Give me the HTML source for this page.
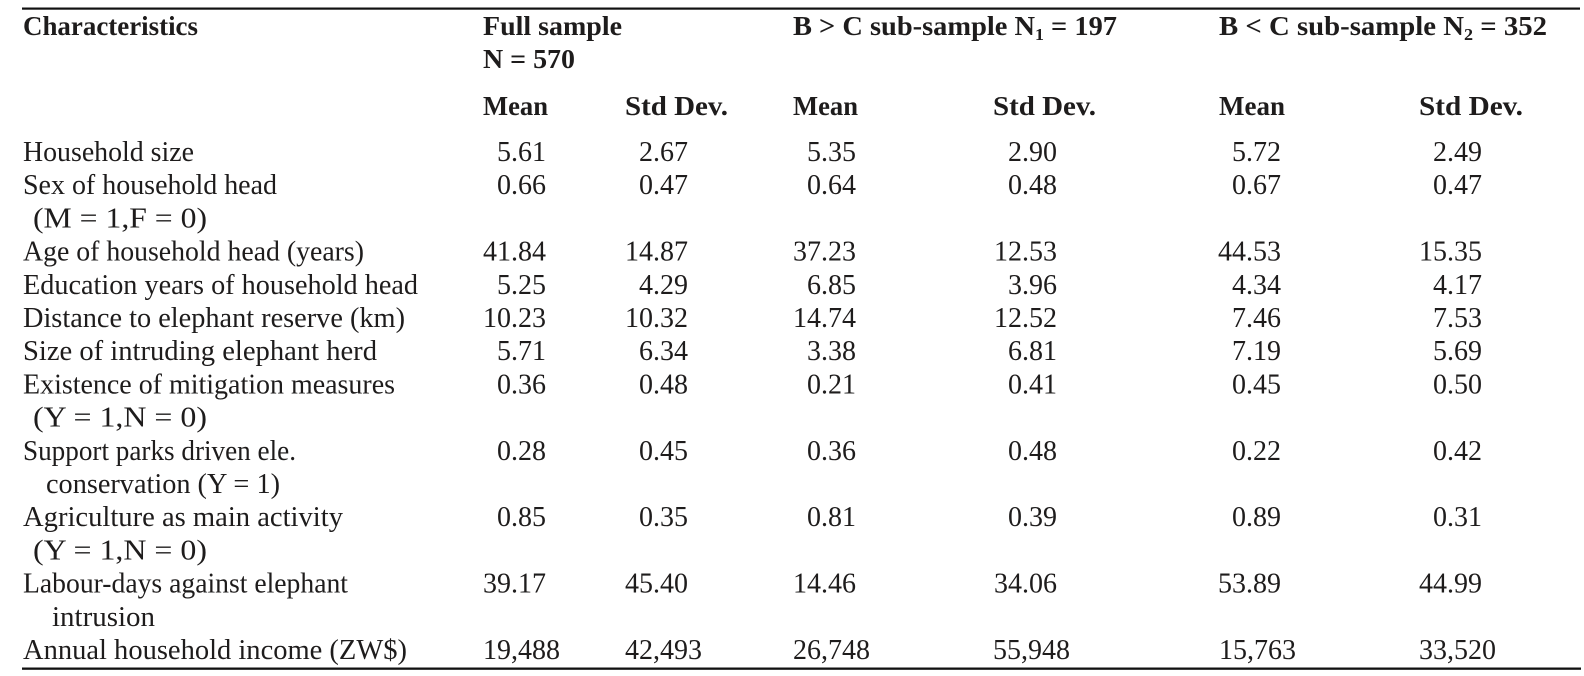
<!DOCTYPE html>
<html>
<head>
<meta charset="utf-8">
<style>
  html,body{margin:0;padding:0;background:#fff;}
  body{width:1584px;height:676px;overflow:hidden;}
  svg{display:block;}
  text{font-family:"Liberation Serif","DejaVu Serif",serif;font-size:28px;fill:#1e1c1c;}
  .b{font-weight:bold;font-size:27px;}
  .r{text-anchor:end;}
</style>
</head>
<body>
<svg width="1584" height="676" viewBox="0 0 1584 676" xmlns="http://www.w3.org/2000/svg">
  <!-- rules -->
  <rect x="22" y="7.5" width="1558" height="2.2" fill="#111"/>
  <rect x="22" y="667.5" width="1559" height="2.3" fill="#111"/>

  <!-- header -->
  <text class="b" x="23" y="35" textLength="175" lengthAdjust="spacingAndGlyphs">Characteristics</text>
  <text class="b" x="483" y="35" textLength="139" lengthAdjust="spacingAndGlyphs">Full sample</text>
  <text class="b" x="483" y="68" textLength="92" lengthAdjust="spacingAndGlyphs">N = 570</text>
  <text class="b" x="793" y="35" textLength="324" lengthAdjust="spacingAndGlyphs">B &gt; C sub-sample N<tspan font-size="17" dy="5">1</tspan><tspan dy="-5"> = 197</tspan></text>
  <text class="b" x="1219" y="35" textLength="328" lengthAdjust="spacingAndGlyphs">B &lt; C sub-sample N<tspan font-size="17" dy="5">2</tspan><tspan dy="-5"> = 352</tspan></text>

  <text class="b" x="483" y="115" textLength="65" lengthAdjust="spacingAndGlyphs">Mean</text>
  <text class="b" x="625" y="115" textLength="103" lengthAdjust="spacingAndGlyphs">Std Dev.</text>
  <text class="b" x="793" y="115" textLength="65" lengthAdjust="spacingAndGlyphs">Mean</text>
  <text class="b" x="993" y="115" textLength="103" lengthAdjust="spacingAndGlyphs">Std Dev.</text>
  <text class="b" x="1219" y="115" textLength="66" lengthAdjust="spacingAndGlyphs">Mean</text>
  <text class="b" x="1419" y="115" textLength="104" lengthAdjust="spacingAndGlyphs">Std Dev.</text>

  <!-- labels -->
  <text x="23" y="161" textLength="171" lengthAdjust="spacingAndGlyphs">Household size</text>
  <text x="23" y="194.2" textLength="254" lengthAdjust="spacingAndGlyphs">Sex of household head</text>
  <text x="33" y="227.4" textLength="174" lengthAdjust="spacingAndGlyphs">(M = 1,F = 0)</text>
  <text x="23" y="260.6" textLength="341" lengthAdjust="spacingAndGlyphs">Age of household head (years)</text>
  <text x="23" y="293.8" textLength="395" lengthAdjust="spacingAndGlyphs">Education years of household head</text>
  <text x="23" y="327" textLength="382" lengthAdjust="spacingAndGlyphs">Distance to elephant reserve (km)</text>
  <text x="23" y="360.2" textLength="354" lengthAdjust="spacingAndGlyphs">Size of intruding elephant herd</text>
  <text x="23" y="393.4" textLength="372" lengthAdjust="spacingAndGlyphs">Existence of mitigation measures</text>
  <text x="33" y="426.6" textLength="174" lengthAdjust="spacingAndGlyphs">(Y = 1,N = 0)</text>
  <text x="23" y="459.8" textLength="273" lengthAdjust="spacingAndGlyphs">Support parks driven ele.</text>
  <text x="46" y="493" textLength="234" lengthAdjust="spacingAndGlyphs">conservation (Y = 1)</text>
  <text x="23" y="526.2" textLength="320" lengthAdjust="spacingAndGlyphs">Agriculture as main activity</text>
  <text x="33" y="559.4" textLength="174" lengthAdjust="spacingAndGlyphs">(Y = 1,N = 0)</text>
  <text x="23" y="592.6" textLength="325" lengthAdjust="spacingAndGlyphs">Labour-days against elephant</text>
  <text x="52" y="625.8" textLength="103" lengthAdjust="spacingAndGlyphs">intrusion</text>
  <text x="23" y="659" textLength="384" lengthAdjust="spacingAndGlyphs">Annual household income (ZW$)</text>

  <!-- numbers -->
  <text class="r" x="546" y="161">5.61</text>
  <text class="r" x="688" y="161">2.67</text>
  <text class="r" x="856" y="161">5.35</text>
  <text class="r" x="1057" y="161">2.90</text>
  <text class="r" x="1281" y="161">5.72</text>
  <text class="r" x="1482" y="161">2.49</text>

  <text class="r" x="546" y="194.2">0.66</text>
  <text class="r" x="688" y="194.2">0.47</text>
  <text class="r" x="856" y="194.2">0.64</text>
  <text class="r" x="1057" y="194.2">0.48</text>
  <text class="r" x="1281" y="194.2">0.67</text>
  <text class="r" x="1482" y="194.2">0.47</text>

  <text class="r" x="546" y="260.6">41.84</text>
  <text class="r" x="688" y="260.6">14.87</text>
  <text class="r" x="856" y="260.6">37.23</text>
  <text class="r" x="1057" y="260.6">12.53</text>
  <text class="r" x="1281" y="260.6">44.53</text>
  <text class="r" x="1482" y="260.6">15.35</text>

  <text class="r" x="546" y="293.8">5.25</text>
  <text class="r" x="688" y="293.8">4.29</text>
  <text class="r" x="856" y="293.8">6.85</text>
  <text class="r" x="1057" y="293.8">3.96</text>
  <text class="r" x="1281" y="293.8">4.34</text>
  <text class="r" x="1482" y="293.8">4.17</text>

  <text class="r" x="546" y="327">10.23</text>
  <text class="r" x="688" y="327">10.32</text>
  <text class="r" x="856" y="327">14.74</text>
  <text class="r" x="1057" y="327">12.52</text>
  <text class="r" x="1281" y="327">7.46</text>
  <text class="r" x="1482" y="327">7.53</text>

  <text class="r" x="546" y="360.2">5.71</text>
  <text class="r" x="688" y="360.2">6.34</text>
  <text class="r" x="856" y="360.2">3.38</text>
  <text class="r" x="1057" y="360.2">6.81</text>
  <text class="r" x="1281" y="360.2">7.19</text>
  <text class="r" x="1482" y="360.2">5.69</text>

  <text class="r" x="546" y="393.4">0.36</text>
  <text class="r" x="688" y="393.4">0.48</text>
  <text class="r" x="856" y="393.4">0.21</text>
  <text class="r" x="1057" y="393.4">0.41</text>
  <text class="r" x="1281" y="393.4">0.45</text>
  <text class="r" x="1482" y="393.4">0.50</text>

  <text class="r" x="546" y="459.8">0.28</text>
  <text class="r" x="688" y="459.8">0.45</text>
  <text class="r" x="856" y="459.8">0.36</text>
  <text class="r" x="1057" y="459.8">0.48</text>
  <text class="r" x="1281" y="459.8">0.22</text>
  <text class="r" x="1482" y="459.8">0.42</text>

  <text class="r" x="546" y="526.2">0.85</text>
  <text class="r" x="688" y="526.2">0.35</text>
  <text class="r" x="856" y="526.2">0.81</text>
  <text class="r" x="1057" y="526.2">0.39</text>
  <text class="r" x="1281" y="526.2">0.89</text>
  <text class="r" x="1482" y="526.2">0.31</text>

  <text class="r" x="546" y="592.6">39.17</text>
  <text class="r" x="688" y="592.6">45.40</text>
  <text class="r" x="856" y="592.6">14.46</text>
  <text class="r" x="1057" y="592.6">34.06</text>
  <text class="r" x="1281" y="592.6">53.89</text>
  <text class="r" x="1482" y="592.6">44.99</text>

  <text x="483" y="659">19,488</text>
  <text x="625" y="659">42,493</text>
  <text x="793" y="659">26,748</text>
  <text x="993" y="659">55,948</text>
  <text x="1219" y="659">15,763</text>
  <text x="1419" y="659">33,520</text>
</svg>
</body>
</html>
